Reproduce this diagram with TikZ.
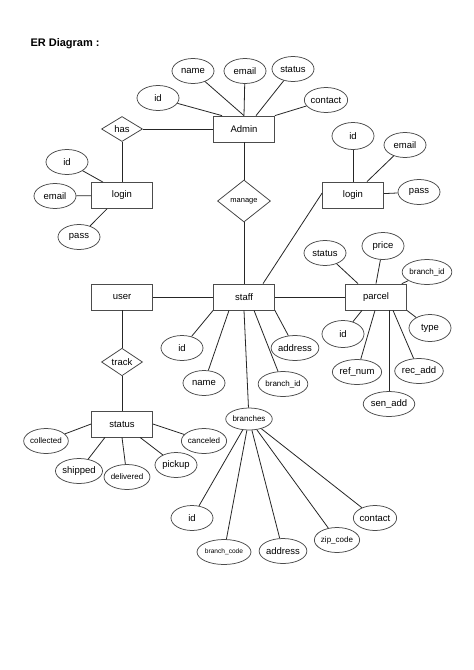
\documentclass[tikz,border=0pt]{standalone}
\usepackage{fontspec}
\setmainfont{Liberation Sans}
\usetikzlibrary{shapes.geometric}
\begin{document}
\begin{tikzpicture}[x=1pt,y=-1pt,
  attr/.style={ellipse,draw=black!70,line width=0.75pt,minimum width=42pt,minimum height=25pt,inner sep=0pt,font=\fontsize{9.5}{10}\selectfont},
  sattr/.style={attr,font=\fontsize{8}{9}\selectfont},
  ent/.style={rectangle,draw=black!70,line width=0.75pt,minimum width=61pt,minimum height=26pt,inner sep=0pt,font=\fontsize{9.5}{10}\selectfont},
  rel/.style={diamond,draw=black!75,line width=0.75pt,minimum width=41pt,minimum height=25pt,inner sep=0pt,font=\fontsize{9.5}{10}\selectfont},
  conn/.style={draw=black!85,line width=0.8pt}]
\useasboundingbox[fill=white] (0,0) rectangle (474,670);
\node[anchor=west,font=\bfseries\fontsize{11}{12}\selectfont] (title) at (27,44) {ER Diagram :};
% Admin
\node[ent] (admin) at (244,129) {Admin};
\node[attr] (aname) at (193,71) {name};
\node[attr] (aemail) at (245,71) {email};
\node[attr] (astatus) at (293,69) {status};
\node[attr] (acontact) at (326,100) {contact};
\node[attr] (aid) at (158,98) {id};
\node[rel] (has) at (122,129) {has};
% left login
\node[ent] (loginL) at (122,195.5) {login};
\node[attr] (lid) at (67,162) {id};
\node[attr] (lemail) at (55,196) {email};
\node[attr] (lpass) at (79,237) {pass};
% manage
\node[rel,minimum width=53pt,minimum height=42pt,font=\fontsize{7.5}{8}\selectfont] (manage) at (244,201) {manage};
% right login
\node[ent] (loginR) at (353,195) {login};
\node[attr,minimum height=27pt] (rid) at (353,136) {id};
\node[attr] (remail) at (405,145) {email};
\node[attr] (rpass) at (419,192) {pass};
% staff, user
\node[ent] (staff) at (244,297) {staff};
\node[ent] (user) at (122,297) {user};
\node[attr] (sid) at (182,348) {id};
\node[attr] (sname) at (204,383) {name};
\node[sattr] (sbid) at (283,384) {branch\_id};
\node[attr] (saddr) at (295,348) {address};
% parcel
\node[ent] (parcel) at (376,297) {parcel};
\node[attr] (pstatus) at (325,253) {status};
\node[attr,minimum height=27pt] (price) at (383,246) {price};
\node[sattr] (pbid) at (427,272) {branch\_id};
\node[attr,minimum height=27pt] (ptype) at (430,328) {type};
\node[attr,minimum height=27pt] (pid) at (343,334) {id};
\node[attr] (refnum) at (357,372) {ref\_num};
\node[attr] (recadd) at (419,371) {rec\_add};
\node[attr] (senadd) at (389,404) {sen\_add};
% track, status
\node[rel] (track) at (122,362) {track};
\node[ent] (status) at (122,424) {status};
\node[sattr] (collected) at (46,441) {collected};
\node[attr] (shipped) at (79,471) {shipped};
\node[sattr] (delivered) at (127,477) {delivered};
\node[attr] (pickup) at (176,465) {pickup};
\node[sattr] (canceled) at (204,441) {canceled};
% branches
\node[sattr,minimum height=22pt] (branches) at (249,419) {branches};
\node[attr] (bid) at (192,518) {id};
\node[attr,font=\fontsize{6.6}{7}\selectfont] (bcode) at (224,552) {branch\_code};
\node[attr] (baddr) at (283,551) {address};
\node[sattr] (zip) at (337,540) {zip\_code};
\node[attr] (bcontact) at (375,518) {contact};
% connectors
\draw[conn] (aname) -- (admin.north);
\draw[conn] (aemail) -- (admin.north);
\draw[conn] (astatus) -- ([xshift=12pt]admin.north);
\draw[conn] (acontact) -- (admin.north east);
\draw[conn] (aid) -- ([xshift=-22pt]admin.north);
\draw[conn] (has) -- (admin);
\draw[conn] (has) -- (loginL);
\draw[conn] (lid) -- ([xshift=-19pt]loginL.north);
\draw[conn] (lemail) -- (loginL);
\draw[conn] (lpass) -- ([xshift=-15pt]loginL.south);
\draw[conn] (admin) -- (manage);
\draw[conn] (manage) -- (staff);
\draw[conn] (rid) -- (loginR);
\draw[conn] (remail) -- ([xshift=14pt]loginR.north);
\draw[conn] (rpass) -- (loginR);
\draw[conn] ([yshift=2pt]loginR.west) -- ([xshift=19pt]staff.north);
\draw[conn] (user) -- (staff);
\draw[conn] (staff) -- (parcel);
\draw[conn] (sid) -- (staff.south west);
\draw[conn] (sname) -- ([xshift=-15pt]staff.south);
\draw[conn] (sbid) -- ([xshift=10pt]staff.south);
\draw[conn] (saddr) -- (staff.south east);
\draw[conn] (staff.south) -- (branches);
\draw[conn] (pstatus) -- ([xshift=-18pt]parcel.north);
\draw[conn] (price) -- (parcel.north);
\draw[conn] (pbid) -- ([xshift=-5pt]parcel.north east);
\draw[conn] (ptype) -- (parcel.south east);
\draw[conn] (pid) -- ([xshift=-14pt]parcel.south);
\draw[conn] (refnum) -- ([xshift=-1pt]parcel.south);
\draw[conn] (recadd) -- ([xshift=17pt]parcel.south);
\draw[conn] (senadd) -- (senadd |- parcel.south);
\draw[conn] (user) -- (track);
\draw[conn] (track) -- (status);
\draw[conn] (collected) -- (status.west);
\draw[conn] (shipped) -- ([xshift=-17pt]status.south);
\draw[conn] (delivered) -- (status.south);
\draw[conn] (pickup) -- ([xshift=18pt]status.south);
\draw[conn] (canceled) -- (status.east);
\draw[conn] (branches) -- (bid);
\draw[conn] (branches) -- (bcode);
\draw[conn] (branches) -- (baddr);
\draw[conn] (branches) -- (zip);
\draw[conn] (branches) -- (bcontact);
\end{tikzpicture}
\end{document}
